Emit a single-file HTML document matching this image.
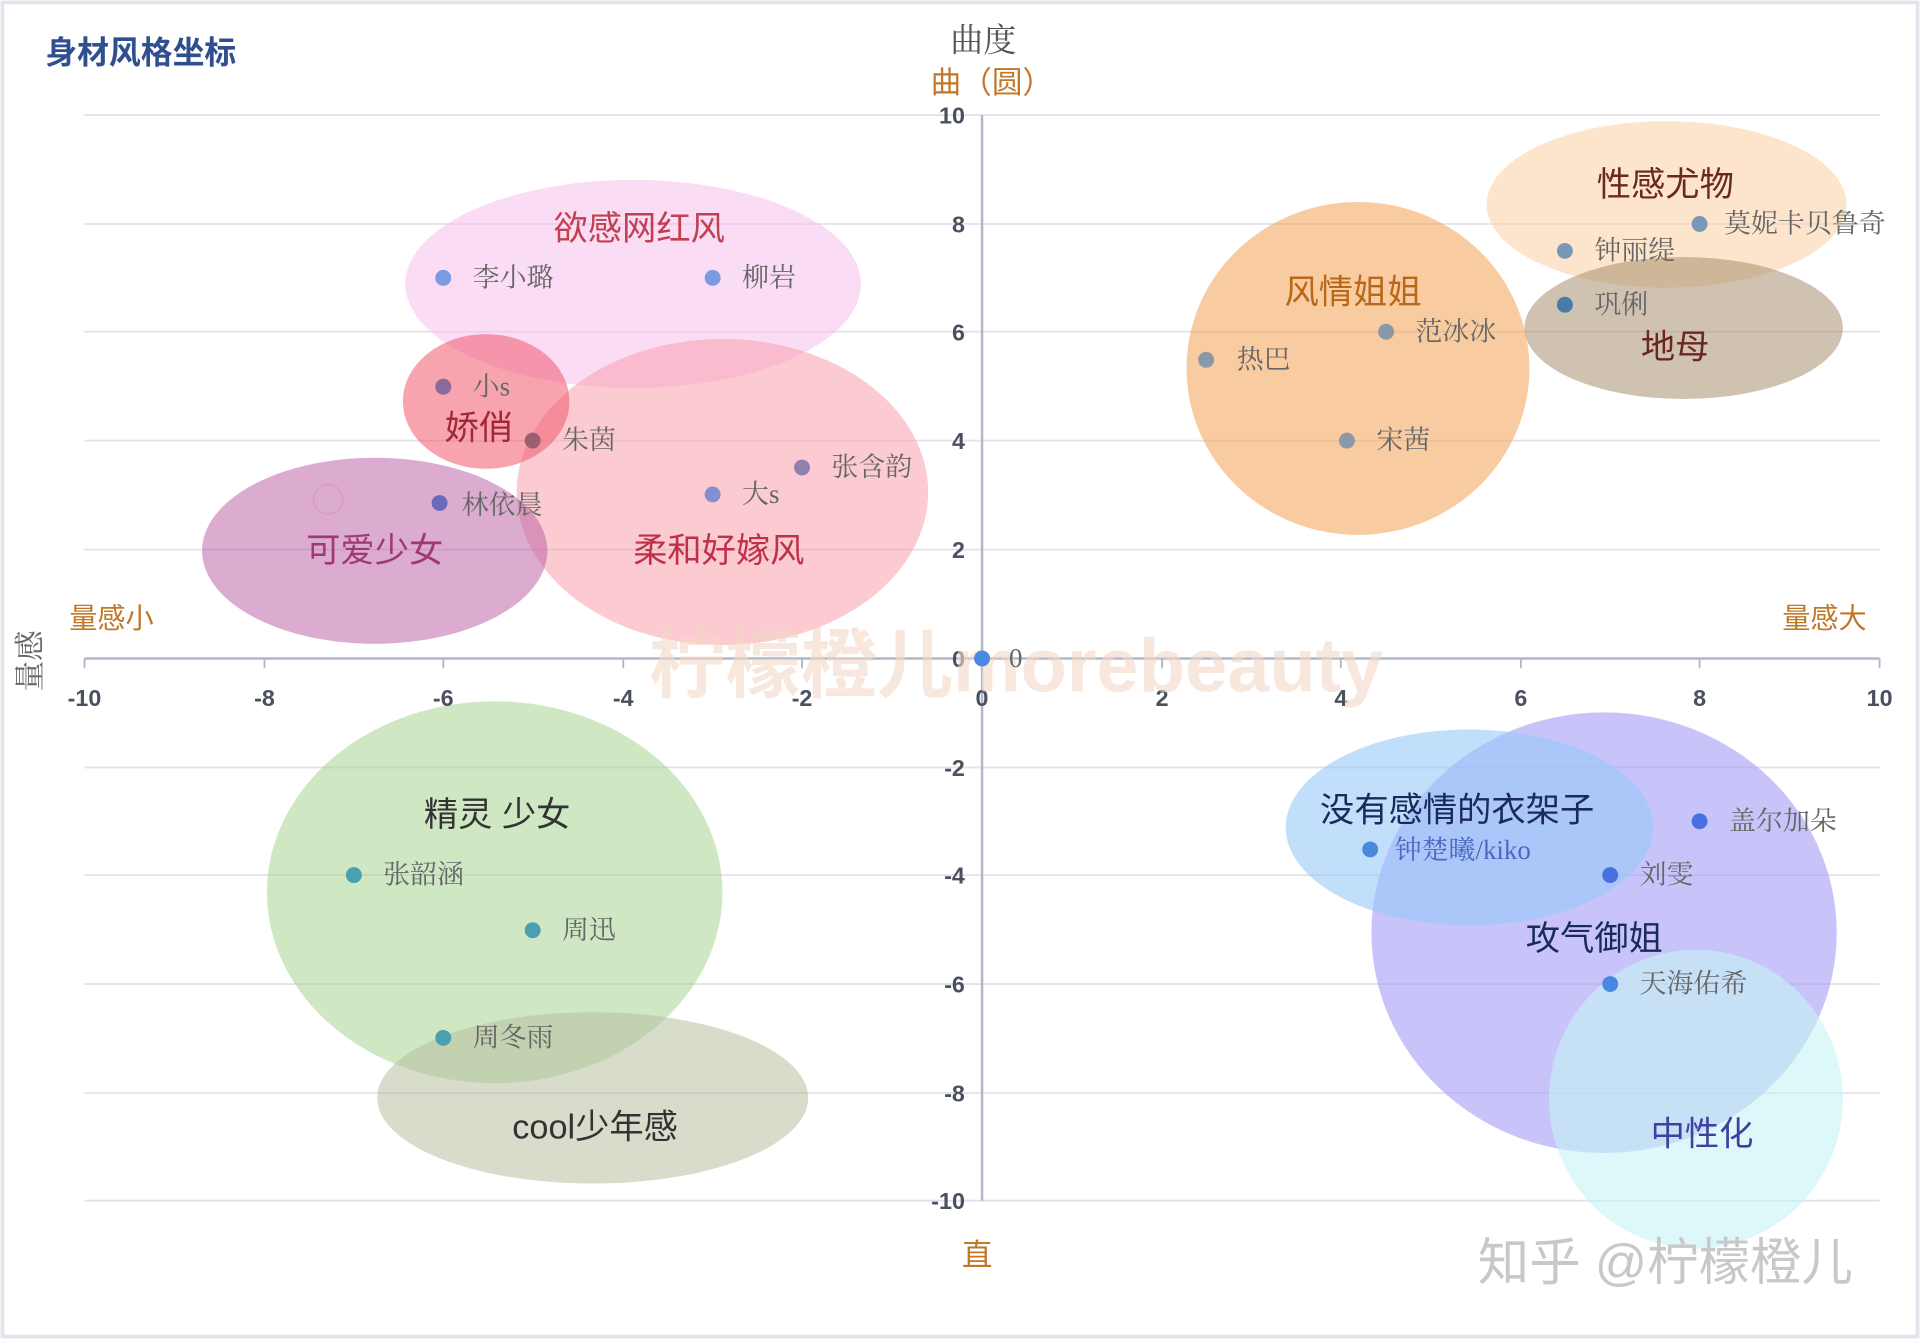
<!DOCTYPE html>
<html><head><meta charset="utf-8"><style>
html,body{margin:0;padding:0;background:#fff;}
svg{display:block;}
.s{font-family:"Liberation Sans","Noto Sans CJK SC",sans-serif;}
.r{font-family:"Liberation Serif","Noto Serif CJK SC",serif;}
</style></head><body>
<svg width="1920" height="1339" viewBox="0 0 1568 1094" preserveAspectRatio="none" xmlns="http://www.w3.org/2000/svg">
<rect x="0" y="0" width="1568" height="1094" fill="#fff"/>
<rect x="2" y="2" width="1564" height="1090" fill="none" stroke="#e4e4ec" stroke-width="3"/>
<g stroke="#e2e2ea" stroke-width="1.5">
<line x1="69" y1="94" x2="1535" y2="94"/><line x1="69" y1="183" x2="1535" y2="183"/>
<line x1="69" y1="271" x2="1535" y2="271"/><line x1="69" y1="360" x2="1535" y2="360"/>
<line x1="69" y1="449" x2="1535" y2="449"/><line x1="69" y1="627" x2="1535" y2="627"/>
<line x1="69" y1="715" x2="1535" y2="715"/><line x1="69" y1="804" x2="1535" y2="804"/>
<line x1="69" y1="893" x2="1535" y2="893"/><line x1="69" y1="981" x2="1535" y2="981"/>
</g>
<ellipse cx="517" cy="232" rx="186" ry="85" fill="#f7c4ee" opacity="0.6"/>
<ellipse cx="590" cy="402" rx="168" ry="125" fill="#f8a0ac" opacity="0.55"/>
<ellipse cx="397" cy="328" rx="68" ry="55" fill="#f05a6c" opacity="0.55"/>
<ellipse cx="306" cy="450" rx="141" ry="76" fill="#b85aa0" opacity="0.5"/>
<ellipse cx="1109" cy="301" rx="140" ry="136" fill="#f4a860" opacity="0.6"/>
<ellipse cx="1361" cy="167" rx="147" ry="68" fill="#fbd4ac" opacity="0.6"/>
<ellipse cx="1375" cy="268" rx="130" ry="58" fill="#a89070" opacity="0.55"/>
<ellipse cx="404" cy="729" rx="186" ry="156" fill="#a8d490" opacity="0.55"/>
<ellipse cx="484" cy="897" rx="176" ry="70" fill="#b8c0a0" opacity="0.55"/>
<ellipse cx="1310" cy="762" rx="190" ry="180" fill="#a49cf6" opacity="0.6"/>
<ellipse cx="1200" cy="676" rx="150" ry="80" fill="#98c8f8" opacity="0.6"/>
<ellipse cx="1385" cy="898" rx="120" ry="122" fill="#c4f4f4" opacity="0.6"/>
<circle cx="268" cy="408" r="12" fill="none" stroke="#d8a0c0" stroke-width="1.5"/>
<g stroke="#b0b8c8" stroke-width="2">
<line x1="69" y1="538" x2="1535" y2="538"/><line x1="802" y1="94" x2="802" y2="981"/>
</g>
<g stroke="#b0b8c8" stroke-width="1.5">
<line x1="69" y1="538" x2="69" y2="546"/><line x1="216" y1="538" x2="216" y2="546"/><line x1="362" y1="538" x2="362" y2="546"/>
<line x1="509" y1="538" x2="509" y2="546"/><line x1="655" y1="538" x2="655" y2="546"/><line x1="949" y1="538" x2="949" y2="546"/>
<line x1="1095" y1="538" x2="1095" y2="546"/><line x1="1242" y1="538" x2="1242" y2="546"/><line x1="1388" y1="538" x2="1388" y2="546"/><line x1="1535" y1="538" x2="1535" y2="546"/>
</g>
<g class="s" font-size="19" font-weight="bold" fill="#4a5060" text-anchor="middle">
<text x="69" y="577">-10</text><text x="216" y="577">-8</text><text x="362" y="577">-6</text><text x="509" y="577">-4</text><text x="655" y="577">-2</text><text x="802" y="577">0</text>
<text x="949" y="577">2</text><text x="1095" y="577">4</text><text x="1242" y="577">6</text><text x="1388" y="577">8</text><text x="1535" y="577">10</text>
</g>
<g class="s" font-size="19" font-weight="bold" fill="#4a5060" text-anchor="end">
<text x="788" y="101">10</text><text x="788" y="190">8</text><text x="788" y="278">6</text><text x="788" y="367">4</text><text x="788" y="456">2</text><text x="788" y="545">0</text>
<text x="788" y="634">-2</text><text x="788" y="722">-4</text><text x="788" y="811">-6</text><text x="788" y="900">-8</text><text x="788" y="988">-10</text>
</g>
<text class="s" x="830" y="565" font-size="62" font-weight="bold" fill="#f4d8c8" opacity="0.6" text-anchor="middle">柠檬橙儿morebeauty</text>
<text class="s" x="37" y="52" font-size="26" font-weight="bold" fill="#2f4f8f">身材风格坐标</text>
<text class="r" x="803" y="42" font-size="27" fill="#555" text-anchor="middle">曲度</text>
<text class="s" x="810" y="76" font-size="25" fill="#c07828" text-anchor="middle">曲（圆）</text>
<text class="s" x="798" y="1034" font-size="25" fill="#c07828" text-anchor="middle">直</text>
<text class="s" x="91" y="513" font-size="23" fill="#c07828" text-anchor="middle">量感小</text>
<text class="s" x="1490" y="513" font-size="23" fill="#c07828" text-anchor="middle">量感大</text>
<text class="r" x="0" y="0" font-size="25" fill="#666" text-anchor="middle" transform="translate(33,540) rotate(-90)">量感</text>
<g class="s" font-size="28" text-anchor="middle">
<text x="522" y="196" fill="#c04050">欲感网红风</text>
<text x="391" y="359" fill="#a02838">娇俏</text>
<text x="587" y="459" fill="#c03048">柔和好嫁风</text>
<text x="306" y="459" fill="#a03878">可爱少女</text>
<text x="1105" y="248" fill="#b86818">风情姐姐</text>
<text x="1360" y="160" fill="#6a2820">性感尤物</text>
<text x="1368" y="293" fill="#6a2820">地母</text>
<text x="406" y="675" fill="#333">精灵 少女</text>
<text x="486" y="930" fill="#333">cool少年感</text>
<text x="1190" y="671" fill="#1a2a5a">没有感情的衣架子</text>
<text x="1302" y="776" fill="#1a2a5a">攻气御姐</text>
<text x="1390" y="936" fill="#4040a0">中性化</text>
</g>
<g>
<circle cx="362" cy="227" r="6.5" fill="#7b9ae0"/><circle cx="582" cy="227" r="6.5" fill="#7b9ae0"/>
<circle cx="362" cy="316" r="6.5" fill="#8a6a9a"/><circle cx="435" cy="360" r="6.5" fill="#9a6070"/>
<circle cx="655" cy="382" r="6.5" fill="#9080b0"/><circle cx="582" cy="404" r="6.5" fill="#8090d0"/>
<circle cx="359" cy="411" r="6.5" fill="#6a6aba"/>
<circle cx="985" cy="294" r="6.5" fill="#8a98a8"/><circle cx="1132" cy="271" r="6.5" fill="#8a98a8"/><circle cx="1100" cy="360" r="6.5" fill="#8a98a8"/>
<circle cx="1278" cy="205" r="6.5" fill="#7898b8"/><circle cx="1278" cy="249" r="6.5" fill="#4a7aa8"/><circle cx="1388" cy="183" r="6.5" fill="#7898b8"/>
<circle cx="289" cy="715" r="6.5" fill="#4aa0b0"/><circle cx="435" cy="760" r="6.5" fill="#4aa0b0"/><circle cx="362" cy="848" r="6.5" fill="#4aa0b0"/>
<circle cx="1119" cy="694" r="6.5" fill="#4a88e0"/><circle cx="1388" cy="671" r="6.5" fill="#4a70e0"/><circle cx="1315" cy="715" r="6.5" fill="#4a70e0"/><circle cx="1315" cy="804" r="6.5" fill="#4a88e0"/>
<circle cx="802" cy="538" r="6.5" fill="#4a88e0"/>
</g>
<g class="r" font-size="22" fill="#666">
<text x="386" y="234">李小璐</text><text x="606" y="234">柳岩</text>
<text x="386" y="323">小s</text><text x="459" y="367">朱茵</text><text x="679" y="389">张含韵</text>
<text x="606" y="411">大s</text><text x="377" y="420">林依晨</text>
<text x="1010" y="301">热巴</text><text x="1156" y="278">范冰冰</text><text x="1124" y="367">宋茜</text>
<text x="1302" y="212">钟丽缇</text><text x="1302" y="256">巩俐</text><text x="1408" y="190">莫妮卡贝鲁奇</text>
<text x="313" y="722">张韶涵</text><text x="459" y="767">周迅</text><text x="386" y="855">周冬雨</text>
<text x="1139" y="702" fill="#4a68c0">钟楚曦/kiko</text><text x="1412" y="678">盖尔加朵</text><text x="1339" y="722">刘雯</text><text x="1339" y="811">天海佑希</text>
<text x="824" y="545">0</text>
</g>
<text class="s" x="1360" y="1046" font-size="42" fill="#c8c8c8" text-anchor="middle">知乎 @柠檬橙儿</text>
</svg>
</body></html>
